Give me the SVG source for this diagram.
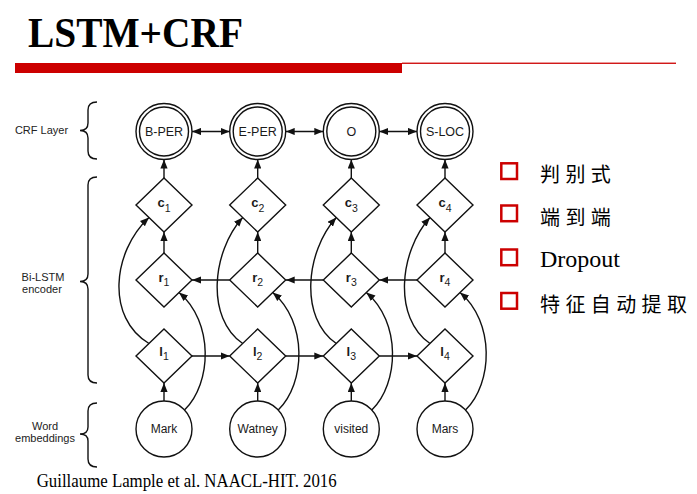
<svg xmlns="http://www.w3.org/2000/svg" width="697" height="494" viewBox="0 0 697 494">
<style>
.ln{fill:none;stroke:#111;stroke-width:1.4}
.sh{fill:#fff;stroke:#111;stroke-width:1.4}
.lbl{font-family:"Liberation Sans",Arial,Helvetica,sans-serif;font-size:12px;fill:#1a1a1a;text-anchor:middle}
.crf{font-size:12.5px}
.br{font-family:"Liberation Sans",Arial,Helvetica,sans-serif;font-size:11px;fill:#222;text-anchor:middle}
.dl{font-family:"Liberation Sans",Arial,Helvetica,sans-serif;font-size:13px;fill:#1a1a1a;text-anchor:middle}
.dl .v{font-weight:bold}
.dl .s{font-size:10.5px}
.bul{fill:none;stroke:#cc0000;stroke-width:2.5}
.cjk{font-family:"Noto Sans CJK SC","Noto Sans CJK JP",sans-serif;font-size:20px;letter-spacing:5.4px;fill:#000}
.ser{font-family:"Liberation Serif","Times New Roman",serif;fill:#000}
</style>
<defs>
<marker id="ah" viewBox="0 0 10 8" refX="10" refY="4" markerWidth="9" markerHeight="7.5" markerUnits="userSpaceOnUse" orient="auto-start-reverse">
<path d="M0,0 L10,4 L0,8 z" fill="#111"/>
</marker>
</defs>

<g id="title">
<text x="28" y="47" class="ser" font-size="43" font-weight="bold" textLength="215" lengthAdjust="spacingAndGlyphs">LSTM+CRF</text>
<rect x="15" y="63" width="387" height="10" fill="#cc0000"/>
<rect x="402" y="62.6" width="274" height="1.3" fill="#cc0000"/>
</g>

<g id="braces">
<path class="ln" stroke-width="1.2" d="M97,102 Q88,102 88,110 L88,123 Q88,130.5 80,130.5 Q88,130.5 88,138 L88,151 Q88,159 97,159"/>
<path class="ln" stroke-width="1.2" d="M97,177 Q88,177 88,185 L88,274 Q88,281.5 80,281.5 Q88,281.5 88,289 L88,375 Q88,383 97,383"/>
<path class="ln" stroke-width="1.2" d="M97,403 Q88,403 88,411 L88,427 Q88,434 80,434 Q88,434 88,441 L88,459 Q88,467 97,467"/>
<text class="br" x="41.5" y="134">CRF Layer</text>
<text class="br" x="43" y="280.5">Bi-LSTM</text>
<text class="br" x="42" y="292.5">encoder</text>
<text class="br" x="45" y="430">Word</text>
<text class="br" x="45" y="442">embeddings</text>
</g>

<g id="connectors" class="ln" marker-end="url(#ah)">
<!-- CRF bidirectional -->
<line x1="192" y1="131.5" x2="229.7" y2="131.5" marker-start="url(#ah)"/>
<line x1="285.7" y1="131.5" x2="323.3" y2="131.5" marker-start="url(#ah)"/>
<line x1="379.3" y1="131.5" x2="417" y2="131.5" marker-start="url(#ah)"/>
<!-- c to CRF -->
<line x1="164" y1="178" x2="164" y2="159.5"/>
<line x1="257.7" y1="178" x2="257.7" y2="159.5"/>
<line x1="351.3" y1="178" x2="351.3" y2="159.5"/>
<line x1="445" y1="178" x2="445" y2="159.5"/>
<!-- r to c -->
<line x1="164" y1="253" x2="164" y2="232"/>
<line x1="257.7" y1="253" x2="257.7" y2="232"/>
<line x1="351.3" y1="253" x2="351.3" y2="232"/>
<line x1="445" y1="253" x2="445" y2="232"/>
<!-- word to l -->
<line x1="164" y1="401" x2="164" y2="383"/>
<line x1="257.7" y1="401" x2="257.7" y2="383"/>
<line x1="351.3" y1="401" x2="351.3" y2="383"/>
<line x1="445" y1="401" x2="445" y2="383"/>
<!-- backward r -->
<line x1="229.7" y1="280" x2="192" y2="280"/>
<line x1="323.3" y1="280" x2="285.7" y2="280"/>
<line x1="417" y1="280" x2="379.3" y2="280"/>
<!-- forward l -->
<line x1="192" y1="356" x2="229.7" y2="356"/>
<line x1="285.7" y1="356" x2="323.3" y2="356"/>
<line x1="379.3" y1="356" x2="417" y2="356"/>
<!-- l to c curves -->
<path d="M149,343.5 C106,318 112,252 149,217.5"/>
<path d="M242.7,343.5 C205.7,318 211.7,252 242.7,217.5"/>
<path d="M336.3,343.5 C299.3,318 305.3,252 336.3,217.5"/>
<path d="M430,343.5 C393,318 399,252 430,217.5"/>
<!-- word to r curves -->
<path d="M184.5,410 C212,383 214,322 179,292.5"/>
<path d="M278.2,410 C305.7,383 307.7,322 272.7,292.5"/>
<path d="M371.8,410 C399.3,383 401.3,322 366.3,292.5"/>
<path d="M465.5,410 C493,383 495,322 460,292.5"/>
</g>

<g id="crf1"><circle class="sh" cx="164" cy="131.5" r="28"/><circle class="sh" cx="164" cy="131.5" r="24.5"/><text class="lbl crf" x="164" y="136">B-PER</text></g>
<g id="crf2"><circle class="sh" cx="257.7" cy="131.5" r="28"/><circle class="sh" cx="257.7" cy="131.5" r="24.5"/><text class="lbl crf" x="257.7" y="136">E-PER</text></g>
<g id="crf3"><circle class="sh" cx="351.3" cy="131.5" r="28"/><circle class="sh" cx="351.3" cy="131.5" r="24.5"/><text class="lbl crf" x="351.3" y="136">O</text></g>
<g id="crf4"><circle class="sh" cx="445" cy="131.5" r="28"/><circle class="sh" cx="445" cy="131.5" r="24.5"/><text class="lbl crf" x="445" y="136">S-LOC</text></g>

<g id="c1"><polygon class="sh" points="164,178 192,205 164,232 136,205"/><text class="dl" x="164" y="207"><tspan class="v">c</tspan><tspan class="s" dy="4.5">1</tspan></text></g>
<g id="c2"><polygon class="sh" points="257.7,178 285.7,205 257.7,232 229.7,205"/><text class="dl" x="257.7" y="207"><tspan class="v">c</tspan><tspan class="s" dy="4.5">2</tspan></text></g>
<g id="c3"><polygon class="sh" points="351.3,178 379.3,205 351.3,232 323.3,205"/><text class="dl" x="351.3" y="207"><tspan class="v">c</tspan><tspan class="s" dy="4.5">3</tspan></text></g>
<g id="c4"><polygon class="sh" points="445,178 473,205 445,232 417,205"/><text class="dl" x="445" y="207"><tspan class="v">c</tspan><tspan class="s" dy="4.5">4</tspan></text></g>

<g id="r1"><polygon class="sh" points="164,253 192,280 164,307 136,280"/><text class="dl" x="164" y="282"><tspan class="v">r</tspan><tspan class="s" dy="4">1</tspan></text></g>
<g id="r2"><polygon class="sh" points="257.7,253 285.7,280 257.7,307 229.7,280"/><text class="dl" x="257.7" y="282"><tspan class="v">r</tspan><tspan class="s" dy="4">2</tspan></text></g>
<g id="r3"><polygon class="sh" points="351.3,253 379.3,280 351.3,307 323.3,280"/><text class="dl" x="351.3" y="282"><tspan class="v">r</tspan><tspan class="s" dy="4">3</tspan></text></g>
<g id="r4"><polygon class="sh" points="445,253 473,280 445,307 417,280"/><text class="dl" x="445" y="282"><tspan class="v">r</tspan><tspan class="s" dy="4">4</tspan></text></g>

<g id="l1"><polygon class="sh" points="164,329 192,356 164,383 136,356"/><text class="dl" x="164" y="356"><tspan class="v">l</tspan><tspan class="s" dy="4">1</tspan></text></g>
<g id="l2"><polygon class="sh" points="257.7,329 285.7,356 257.7,383 229.7,356"/><text class="dl" x="257.7" y="356"><tspan class="v">l</tspan><tspan class="s" dy="4">2</tspan></text></g>
<g id="l3"><polygon class="sh" points="351.3,329 379.3,356 351.3,383 323.3,356"/><text class="dl" x="351.3" y="356"><tspan class="v">l</tspan><tspan class="s" dy="4">3</tspan></text></g>
<g id="l4"><polygon class="sh" points="445,329 473,356 445,383 417,356"/><text class="dl" x="445" y="356"><tspan class="v">l</tspan><tspan class="s" dy="4">4</tspan></text></g>

<g id="w1"><circle class="sh" cx="164" cy="429" r="28"/><text class="lbl" x="164" y="433">Mark</text></g>
<g id="w2"><circle class="sh" cx="257.7" cy="429" r="28"/><text class="lbl" x="257.7" y="433">Watney</text></g>
<g id="w3"><circle class="sh" cx="351.3" cy="429" r="28"/><text class="lbl" x="351.3" y="433">visited</text></g>
<g id="w4"><circle class="sh" cx="445" cy="429" r="28"/><text class="lbl" x="445" y="433">Mars</text></g>

<g id="bullets">
<rect class="bul" x="501.3" y="163.3" width="15.7" height="15.7"/>
<text class="cjk" x="540" y="182">判别式</text>
<rect class="bul" x="501.3" y="205.5" width="15.7" height="15.7"/>
<text class="cjk" x="540" y="224.5">端到端</text>
<rect class="bul" x="501.3" y="249.5" width="15.7" height="15.7"/>
<text class="ser" x="540" y="266.5" font-size="24">Dropout</text>
<rect class="bul" x="501.3" y="293" width="15.7" height="15.7"/>
<text class="cjk" x="540" y="311.5">特征自动提取</text>
</g>

<g id="citation">
<text class="ser" x="36.7" y="486.5" font-size="18.5" textLength="300" lengthAdjust="spacingAndGlyphs">Guillaume Lample et al. NAACL-HIT. 2016</text>
</g>
</svg>
